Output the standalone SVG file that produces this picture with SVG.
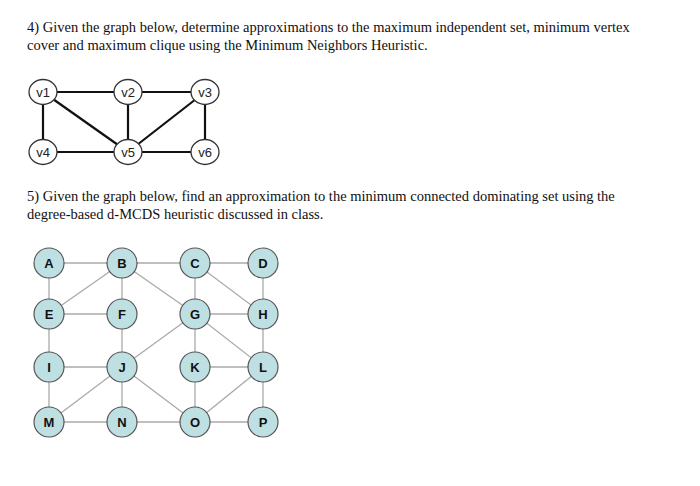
<svg xmlns="http://www.w3.org/2000/svg" width="700" height="486" viewBox="0 0 700 486">
<style>
.t{font-family:"Liberation Serif",serif;font-size:14.5px;fill:#111}
.e1 line{stroke:#111;stroke-width:2.2}
.e2 line{stroke:#aaa;stroke-width:1.3}
.n1 ellipse{fill:#fff;stroke:#333;stroke-width:1.3}
.n1 text{font-family:"Liberation Sans",sans-serif;font-size:13px;text-anchor:middle;fill:#222}
.n2 circle{fill:#bfe0e3;stroke:#555;stroke-width:1.2}
.n2 text{font-family:"Liberation Sans",sans-serif;font-size:13px;font-weight:bold;text-anchor:middle;fill:#111}
</style>
<rect width="700" height="486" fill="#fff"/>
<text class="t" x="27" y="32">4) Given the graph below, determine approximations to the maximum independent set, minimum vertex</text>
<text class="t" x="27" y="50">cover and maximum clique using the Minimum Neighbors Heuristic.</text>
<text class="t" x="27" y="201">5) Given the graph below, find an approximation to the minimum connected dominating set using the</text>
<text class="t" x="27" y="219">degree-based d-MCDS heuristic discussed in class.</text>
<g class="e1">
<line x1="43" y1="92" x2="205" y2="92"/><line x1="43" y1="92" x2="43" y2="152"/><line x1="43" y1="92" x2="128" y2="152"/>
<line x1="128" y1="92" x2="128" y2="152"/><line x1="205" y1="92" x2="128" y2="152"/><line x1="205" y1="92" x2="205" y2="152"/>
<line x1="43" y1="152" x2="205" y2="152"/>
</g>
<g id="v1" class="n1"><ellipse cx="43" cy="92" rx="14" ry="12.5"/><text x="43" y="97">v1</text></g>
<g id="v2" class="n1"><ellipse cx="128" cy="92" rx="14" ry="12.5"/><text x="128" y="97">v2</text></g>
<g id="v3" class="n1"><ellipse cx="205" cy="92" rx="14" ry="12.5"/><text x="205" y="97">v3</text></g>
<g id="v4" class="n1"><ellipse cx="43" cy="152" rx="14" ry="12.5"/><text x="43" y="157">v4</text></g>
<g id="v5" class="n1"><ellipse cx="128" cy="152" rx="14" ry="12.5"/><text x="128" y="157">v5</text></g>
<g id="v6" class="n1"><ellipse cx="205" cy="152" rx="14" ry="12.5"/><text x="205" y="157">v6</text></g>
<g class="e2">
<line x1="49" y1="263" x2="263" y2="263"/>
<line x1="49" y1="263" x2="49" y2="422"/>
<line x1="122" y1="263" x2="49" y2="314"/>
<line x1="122" y1="263" x2="122" y2="422"/>
<line x1="122" y1="263" x2="195" y2="314"/>
<line x1="195" y1="263" x2="195" y2="314"/>
<line x1="195" y1="263" x2="263" y2="314"/>
<line x1="263" y1="263" x2="263" y2="422"/>
<line x1="49" y1="314" x2="122" y2="314"/>
<line x1="195" y1="314" x2="263" y2="314"/>
<line x1="195" y1="314" x2="122" y2="367"/>
<line x1="195" y1="314" x2="195" y2="367"/>
<line x1="195" y1="314" x2="263" y2="367"/>
<line x1="49" y1="367" x2="122" y2="367"/>
<line x1="195" y1="367" x2="263" y2="367"/>
<line x1="122" y1="367" x2="49" y2="422"/>
<line x1="122" y1="367" x2="195" y2="422"/>
<line x1="195" y1="367" x2="195" y2="422"/>
<line x1="263" y1="367" x2="195" y2="422"/>
<line x1="49" y1="422" x2="263" y2="422"/>
</g>
<g id="A" class="n2"><circle cx="49" cy="263" r="15"/><text x="49" y="268">A</text></g>
<g id="B" class="n2"><circle cx="122" cy="263" r="15"/><text x="122" y="268">B</text></g>
<g id="C" class="n2"><circle cx="195" cy="263" r="15"/><text x="195" y="268">C</text></g>
<g id="D" class="n2"><circle cx="263" cy="263" r="15"/><text x="263" y="268">D</text></g>
<g id="E" class="n2"><circle cx="49" cy="314" r="15"/><text x="49" y="319">E</text></g>
<g id="F" class="n2"><circle cx="122" cy="314" r="15"/><text x="122" y="319">F</text></g>
<g id="G" class="n2"><circle cx="195" cy="314" r="15"/><text x="195" y="319">G</text></g>
<g id="H" class="n2"><circle cx="263" cy="314" r="15"/><text x="263" y="319">H</text></g>
<g id="I" class="n2"><circle cx="49" cy="367" r="15"/><text x="49" y="372">I</text></g>
<g id="J" class="n2"><circle cx="122" cy="367" r="15"/><text x="122" y="372">J</text></g>
<g id="K" class="n2"><circle cx="195" cy="367" r="15"/><text x="195" y="372">K</text></g>
<g id="L" class="n2"><circle cx="263" cy="367" r="15"/><text x="263" y="372">L</text></g>
<g id="M" class="n2"><circle cx="49" cy="422" r="15"/><text x="49" y="427">M</text></g>
<g id="N" class="n2"><circle cx="122" cy="422" r="15"/><text x="122" y="427">N</text></g>
<g id="O" class="n2"><circle cx="195" cy="422" r="15"/><text x="195" y="427">O</text></g>
<g id="P" class="n2"><circle cx="263" cy="422" r="15"/><text x="263" y="427">P</text></g>
</svg>
